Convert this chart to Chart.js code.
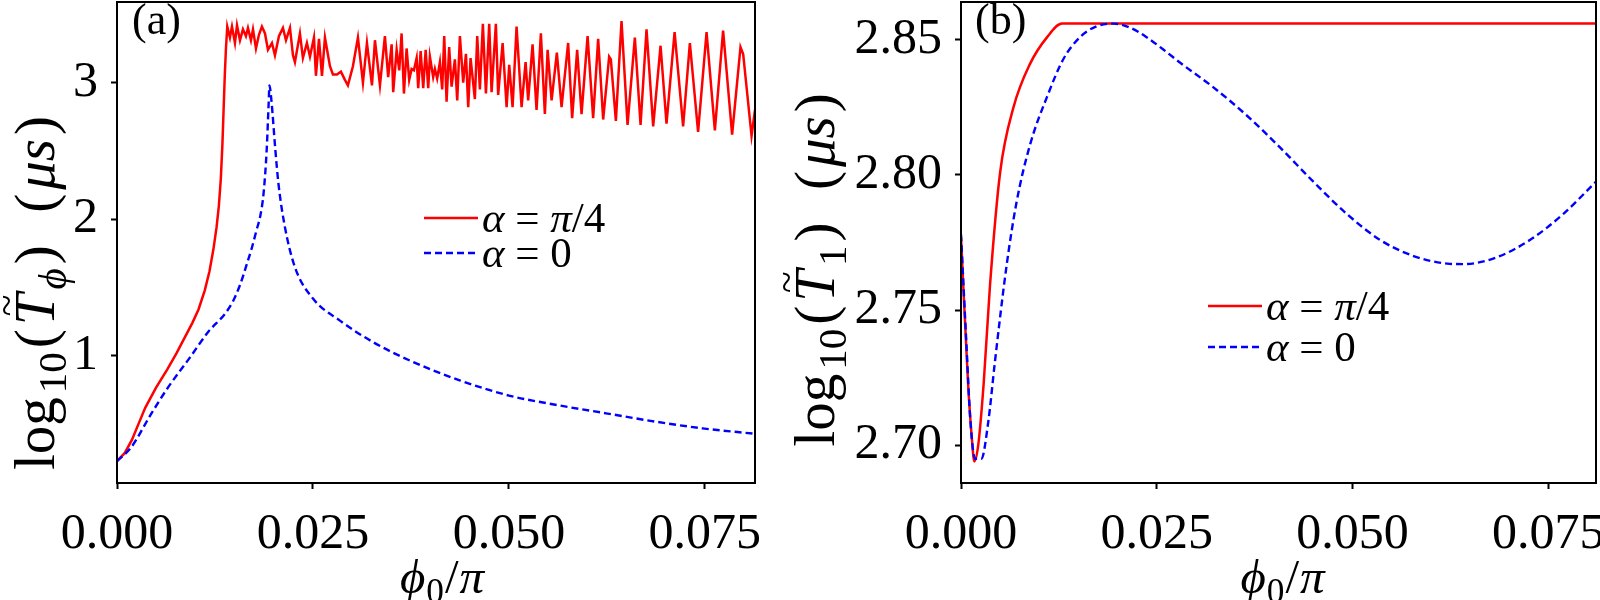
<!DOCTYPE html>
<html lang="en">
<head>
<meta charset="UTF-8">
<title>log10 T vs phi0/pi</title>
<script src="https://cdn.jsdelivr.net/npm/chart.js"></script>
<style>
    html, body { margin: 0; padding: 0; background: #fff; }
    body { width: 1600px; height: 600px; position: relative; overflow: hidden; }
    .panel { position: absolute; top: 0; height: 600px; }
    .fontwarm { position: absolute; left: -9999px; top: 0; font-family: "Liberation Serif"; }
</style>
</head>
<body>
<span class="fontwarm">0.025 log α π <i>ϕ μs T</i></span>
<div class="panel" style="left:0; width:780px;"><canvas id="chartA"></canvas></div>
<div class="panel" style="left:780px; width:820px;"><canvas id="chartB"></canvas></div>
<script>
// ---- data ----
// panel (a): log10(T_phi)
const aRedX = [0, 0.0010, 0.0019, 0.0028, 0.0036, 0.0050, 0.0064, 0.0076, 0.0086, 0.0096, 0.0104, 0.0112, 0.0118, 0.0123, 0.0127, 0.0130, 0.01325, 0.01345, 0.0136, 0.01375, 0.0139, 0.01407,
    0.01441, 0.01467, 0.01505, 0.01531, 0.01569, 0.01607, 0.01645, 0.01671, 0.01709, 0.01735, 0.01773, 0.01811, 0.01849, 0.01888, 0.01926, 0.01977, 0.02015, 0.02066, 0.02117, 0.02156, 0.02207, 0.02245, 0.0227, 0.02334, 0.02372, 0.02423, 0.02462, 0.02513, 0.02538, 0.02577, 0.02615, 0.02653, 0.02717, 0.02755, 0.02806, 0.02857, 0.02908, 0.02946, 0.0301, 0.03074, 0.03138, 0.03189, 0.03253, 0.03291, 0.03355,
    0.03418, 0.0346, 0.03504, 0.03524, 0.03568, 0.03601, 0.03631, 0.03661, 0.03695, 0.03728, 0.03759, 0.03788, 0.03823, 0.03843, 0.03874, 0.03907, 0.03938, 0.03971, 0.03992, 0.04034, 0.04056, 0.04085, 0.0412, 0.04149, 0.04175, 0.04205, 0.04238, 0.04269, 0.04311, 0.04341, 0.04375, 0.04417, 0.04452, 0.04481, 0.04511, 0.04566, 0.04596, 0.0463, 0.04668, 0.04707, 0.04749, 0.04779, 0.04834, 0.04863, 0.0492, 0.04971, 0.05004, 0.05047, 0.05098, 0.05162, 0.05213, 0.05246, 0.05302, 0.05353, 0.05408, 0.05459, 0.05494, 0.05545, 0.05612, 0.05672, 0.05756, 0.05807, 0.05871, 0.05927, 0.06004, 0.06075, 0.06139, 0.06203, 0.06279, 0.06301, 0.06365, 0.06437, 0.06514, 0.06607, 0.0668, 0.06756, 0.06841, 0.06935, 0.07011, 0.07114, 0.07223, 0.07309, 0.07414, 0.07522, 0.07628, 0.07733, 0.07848, 0.07955, 0.07989, 0.08096, 0.0814];
const aRedY = [0.23, 0.29, 0.385, 0.51, 0.62, 0.77, 0.90, 1.02, 1.13, 1.24, 1.34, 1.48, 1.62, 1.78, 1.94, 2.10, 2.30, 2.55, 2.80, 3.05, 3.25, 3.41,
    3.33, 3.41, 3.29, 3.42, 3.31, 3.39, 3.34, 3.40, 3.31, 3.39, 3.25, 3.35, 3.41, 3.36, 3.24, 3.29, 3.20, 3.34, 3.40, 3.31, 3.40, 3.20, 3.15, 3.36, 3.18, 3.29, 3.19, 3.33, 3.05, 3.32, 3.05, 3.33, 3.12, 3.06, 3.06, 3.08, 3.02, 2.98, 3.12, 3.33, 3.00, 3.29, 2.98, 3.31, 2.98,
    3.34, 3.04, 3.28, 2.93, 3.24, 3.09, 3.36, 2.92, 3.25, 3.02, 3.10, 3.09, 3.18, 2.96, 3.23, 2.96, 3.24, 2.96, 3.19, 3.04, 3.10, 3.03, 3.15, 2.95, 3.34, 2.86, 3.26, 2.97, 3.17, 2.87, 3.34, 3.00, 3.21, 2.82, 3.18, 2.88, 3.34, 2.95, 3.43, 2.92, 3.43, 2.93, 3.43, 2.91, 3.29, 2.82, 3.13, 2.82, 3.41, 2.82, 3.15, 2.87, 3.28, 2.80, 3.36, 2.77, 3.24, 2.87, 3.22, 2.82, 3.29, 2.74, 3.24, 2.77, 3.34, 2.74, 3.32, 2.73, 3.19, 3.17, 2.72, 3.45, 2.69, 3.33, 2.69, 3.39, 2.68, 3.27, 2.70, 3.37, 2.68, 3.29, 2.64, 3.37, 2.65, 3.38, 2.62, 3.26, 3.21, 2.61, 2.80];
const aBlueX = [0, 0.0018, 0.0043, 0.0064, 0.0092, 0.0117, 0.0138, 0.0148, 0.0157, 0.0165, 0.0172, 0.0178, 0.0183, 0.0187, 0.0191, 0.01935, 0.01945, 0.0197, 0.0202, 0.0206, 0.0214, 0.0227, 0.0250, 0.0284, 0.0327, 0.0376, 0.0438, 0.0500, 0.0562, 0.0624, 0.0686, 0.0747, 0.0814];
const aBlueY = [0.23, 0.33, 0.57, 0.76, 0.98, 1.18, 1.31, 1.40, 1.52, 1.66, 1.79, 1.92, 2.03, 2.19, 2.51, 2.85, 2.98, 2.87, 2.51, 2.26, 1.95, 1.65, 1.42, 1.26, 1.10, 0.96, 0.82, 0.71, 0.64, 0.58, 0.52, 0.47, 0.43];

// panel (b): log10(T_1)
const bRedX = [0, 0.0009, 0.0014, 0.0017, 0.0022, 0.0029, 0.0037, 0.0050, 0.0067, 0.0088, 0.0110, 0.0129, 0.0160, 0.0250, 0.0400, 0.0550, 0.0700, 0.0811];
const bRedY = [2.777, 2.723, 2.702, 2.694, 2.700, 2.723, 2.759, 2.801, 2.825, 2.841, 2.851, 2.856, 2.856, 2.856, 2.856, 2.856, 2.856, 2.856];
const bBlueX = [0, 0.0007, 0.0012, 0.0018, 0.0026, 0.0035, 0.0043, 0.0058, 0.0071, 0.0088, 0.0110, 0.0131, 0.0152, 0.0173, 0.0195, 0.0216, 0.0237, 0.0258, 0.0280, 0.0322, 0.0365, 0.0408, 0.0450, 0.0493, 0.0535, 0.0578, 0.0621, 0.0642, 0.0684, 0.0727, 0.0769, 0.0811];
const bBlueY = [2.778, 2.737, 2.709, 2.695, 2.695, 2.709, 2.730, 2.766, 2.790, 2.811, 2.829, 2.843, 2.851, 2.855, 2.856, 2.8545, 2.851, 2.8465, 2.8415, 2.8325, 2.822, 2.810, 2.7975, 2.7855, 2.776, 2.770, 2.7672, 2.767, 2.7695, 2.776, 2.7855, 2.7975];

// ticks
const xTicks = [0, 0.025, 0.05, 0.075];
const aYTicks = [1, 2, 3];
const bYTicks = [2.70, 2.75, 2.80, 2.85];

// labels (text pieces: '' upright, 'i' italic, 's' subscript, 't' tilde)
const seriesLabels = ['α = π/4', 'α = 0'];
const legendParts = [
    [['α', 'i'], [' = ', ''], ['π', 'i'], ['/4', '']],
    [['α', 'i'], [' = 0', '']]
];
const xTitleParts = [['ϕ', 'i'], ['0', 's'], ['/', ''], ['π', 'i']];
const aYTitleParts = [['log', ''], ['10', 's'], ['(', ''], ['T', 'it'], ['ϕ', 'is'], [')', ''], ['  (', ''], ['μs', 'i'], [')', '']];
const bYTitleParts = [['log', ''], ['10', 's'], ['(', ''], ['T', 'it'], ['1', 's'], [')', ''], ['  (', ''], ['μs', 'i'], [')', '']];

const SERIF = '"Liberation Serif", "Times New Roman", serif';
Chart.defaults.font.family = SERIF;
Chart.defaults.color = '#000';

function toPts(xs, ys) {
    return xs.map((x, i) => ({ x: x, y: ys[i] }));
}

// rich text helpers for the math-style titles
function fontOf(st, size) {
    const sz = st.indexOf('s') >= 0 ? size * 0.72 : size;
    return (st.indexOf('i') >= 0 ? 'italic ' : '') + sz + 'px ' + SERIF;
}
function richWidth(ctx, parts, size, gap) {
    let w = 0;
    for (const [t, st] of parts) {
        ctx.font = fontOf(st, size);
        w += ctx.measureText(t).width;
    }
    return w + (gap || 0) * (parts.length - 1);
}
function drawRich(ctx, parts, x, y, size, gap) {
    ctx.textAlign = 'left';
    ctx.textBaseline = 'alphabetic';
    for (const [t, st] of parts) {
        ctx.font = fontOf(st, size);
        const w = ctx.measureText(t).width;
        const dy = st.indexOf('s') >= 0 ? size * 0.2 : 0;
        ctx.fillText(t, x, y + dy);
        if (st.indexOf('t') >= 0) {
            ctx.save();
            ctx.font = (size * 0.7) + 'px ' + SERIF;
            ctx.textAlign = 'center';
            ctx.fillText('~', x + w * 0.62, y - size * 0.6);
            ctx.restore();
        }
        x += w + (gap || 0);
    }
}

// frame, panel letter, axis titles and legend
function figDeco(cfg) {
    return {
        id: 'figDeco',
        afterDraw(chart) {
            const ctx = chart.ctx;
            const a = chart.chartArea;
            ctx.save();
            ctx.strokeStyle = '#000';
            ctx.lineWidth = 2;
            ctx.strokeRect(a.left, a.top, a.right - a.left, a.bottom - a.top);
            ctx.fillStyle = '#000';

            ctx.font = '44px ' + SERIF;
            ctx.textAlign = 'left';
            ctx.textBaseline = 'alphabetic';
            ctx.fillText(cfg.letter, cfg.letterX, cfg.letterY);

            const xs = 49;
            const xw = richWidth(ctx, xTitleParts, xs, 1);
            drawRich(ctx, xTitleParts, (a.left + a.right) / 2 - xw / 2 + cfg.xTitleDx, cfg.xTitleY, xs, 1);

            const ys = 57;
            const yGap = 4;
            const yw = richWidth(ctx, cfg.yTitle, ys, yGap);
            ctx.save();
            ctx.translate(cfg.yTitleX, cfg.yTitleY);
            ctx.rotate(-Math.PI / 2);
            drawRich(ctx, cfg.yTitle, -yw / 2, ys * 0.3, ys, yGap);
            ctx.restore();

            chart.data.datasets.forEach((ds, i) => {
                const ly = cfg.legY + i * cfg.legDy;
                ctx.save();
                ctx.strokeStyle = ds.borderColor;
                ctx.lineWidth = 2.4;
                ctx.setLineDash(ds.borderDash || []);
                ctx.beginPath();
                ctx.moveTo(cfg.legX, ly);
                ctx.lineTo(cfg.legX + 54, ly);
                ctx.stroke();
                ctx.restore();
                drawRich(ctx, legendParts[i], cfg.legX + 58, ly + 14, 43);
            });
            ctx.restore();
        }
    };
}

function makeScales(xMax, yMin, yMax, yTicks, yFmt, yWidth) {
    const tickFont = { family: SERIF, size: 50 };
    const grid = { display: true, drawOnChartArea: false, drawTicks: true, tickLength: 6, tickWidth: 2, tickColor: '#000' };
    const border = { display: true, color: '#000', width: 2 };
    return {
        x: {
            type: 'linear', min: 0, max: xMax,
            afterBuildTicks: s => { s.ticks = xTicks.map(v => ({ value: v })); },
            afterFit: s => { s.height = 117; s.paddingLeft = 0; s.paddingRight = 0; },
            ticks: { font: tickFont, color: '#000', padding: 16, maxRotation: 0, autoSkip: false, callback: v => v.toFixed(3) },
            grid: grid, border: border
        },
        y: {
            type: 'linear', min: yMin, max: yMax,
            afterBuildTicks: s => { s.ticks = yTicks.map(v => ({ value: v })); },
            // keep the plot box flush with the top edge like the original
            afterFit: s => { s.width = yWidth; s.paddingTop = 0; s.paddingBottom = 0; },
            ticks: { font: tickFont, color: '#000', padding: 13, autoSkip: false, callback: yFmt },
            grid: grid, border: border
        }
    };
}

function makeDatasets(rx, ry, bx, by, redSmooth) {
    return [
        { label: seriesLabels[0], data: toPts(rx, ry), borderColor: '#ff0000', borderWidth: 2.5, pointRadius: 0,
          cubicInterpolationMode: redSmooth ? 'monotone' : 'default', tension: 0, order: 1 },
        { label: seriesLabels[1], data: toPts(bx, by), borderColor: '#0000ff', borderWidth: 2.4, borderDash: [7, 4],
          pointRadius: 0, cubicInterpolationMode: 'monotone', order: 0 }
    ];
}

const charts = [];
charts.push(new Chart(document.getElementById('chartA'), {
    type: 'line',
    data: { datasets: makeDatasets(aRedX, aRedY, aBlueX, aBlueY, false) },
    options: {
        responsive: true, maintainAspectRatio: false, animation: false,
        layout: { padding: { left: 0, right: 25, top: 2, bottom: 0 } },
        scales: makeScales(0.0814, 0.07, 3.59, aYTicks, v => String(v), 117),
        plugins: { legend: { display: false }, tooltip: { enabled: false } }
    },
    plugins: [figDeco({ letter: '(a)', letterX: 132, letterY: 34, xTitleY: 593, xTitleDx: 6,
        yTitle: aYTitleParts, yTitleX: 37, yTitleY: 293, legX: 424, legY: 218, legDy: 35 })]
}));

charts.push(new Chart(document.getElementById('chartB'), {
    type: 'line',
    data: { datasets: makeDatasets(bRedX, bRedY, bBlueX, bBlueY, true) },
    options: {
        responsive: true, maintainAspectRatio: false, animation: false,
        layout: { padding: { left: 0, right: 4, top: 2, bottom: 0 } },
        scales: makeScales(0.0811, 2.686, 2.864, bYTicks, v => v.toFixed(2), 181),
        plugins: { legend: { display: false }, tooltip: { enabled: false } }
    },
    plugins: [figDeco({ letter: '(b)', letterX: 195, letterY: 34, xTitleY: 593, xTitleDx: 4,
        yTitle: bYTitleParts, yTitleX: 37, yTitleY: 270, legX: 428, legY: 306, legDy: 41 })]
}));

// redraw once the serif faces are surely available
if (document.fonts) {
    Promise.all([
        document.fonts.load('50px "Liberation Serif"'),
        document.fonts.load('italic 50px "Liberation Serif"')
    ]).then(() => charts.forEach(c => c.update()));
}
</script>
</body>
</html>
